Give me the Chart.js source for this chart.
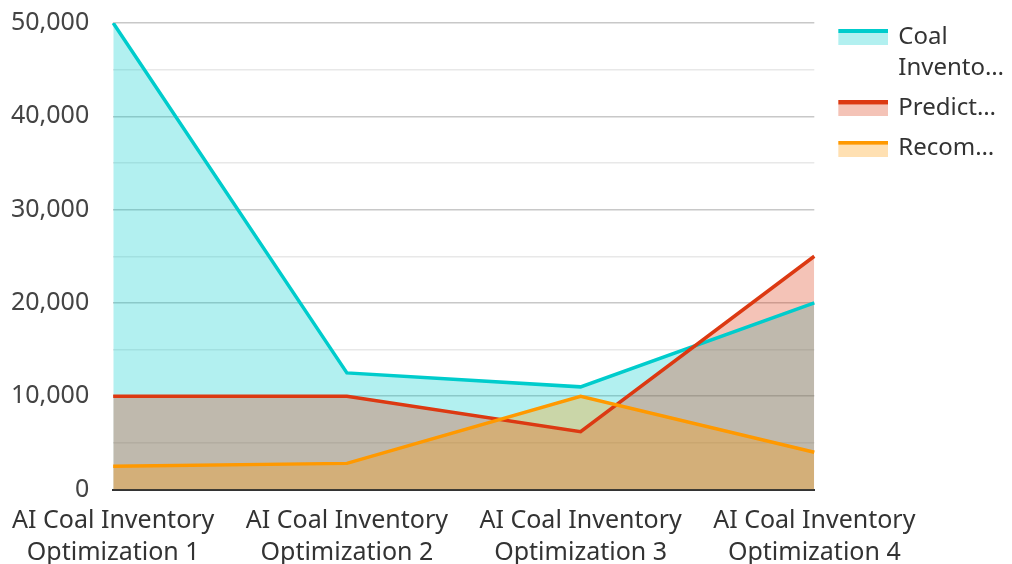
<!DOCTYPE html>
<html>
<head>
<meta charset="utf-8">
<script src="https://cdn.jsdelivr.net/npm/chart.js@4"></script>
<style>
  html, body { margin: 0; padding: 0; background: #fff; }
  #wrap { width: 1012px; height: 564px; }
</style>
</head>
<body>
<div id="wrap"><canvas id="chart"></canvas></div>
<script>
const categories = [
  ["AI Coal Inventory", "Optimization 1"],
  ["AI Coal Inventory", "Optimization 2"],
  ["AI Coal Inventory", "Optimization 3"],
  ["AI Coal Inventory", "Optimization 4"],
];
const seriesNames = ["Coal Inventory", "Predicted Demand", "Recommended Purchase"];
const legendText = [["Coal", "Invento…"], ["Predict…"], ["Recom…"]];
const coalInventory = [50000, 12500, 11000, 20000];
const predictedDemand = [10000, 10000, 6200, 25000];
const recommended = [2500, 2800, 10000, 4000];
const colors = ["rgb(0,204,204)", "rgb(220,57,18)", "rgb(255,153,0)"];
const fills = ["rgba(0,204,204,0.3)", "rgba(220,57,18,0.3)", "rgba(255,153,0,0.3)"];

// legend icon: thick line over a light block, pushed to the right of a wider canvas
const ICON_SHIFT = 15;
function makeIcon(i) {
  const c = document.createElement("canvas");
  c.width = ICON_SHIFT + 52;
  c.height = 16;
  const g = c.getContext("2d");
  const x0 = ICON_SHIFT + 2;
  g.fillStyle = fills[i];
  g.fillRect(x0, 0, 50, 16);
  g.fillStyle = colors[i];
  g.fillRect(x0, 0, 50, 4);
  return c;
}
const icons = [0, 1, 2].map(makeIcon);

Chart.defaults.font.family = "'Noto Sans', sans-serif";
Chart.defaults.color = "#444";

const data = [coalInventory, predictedDemand, recommended];

const ctx = document.getElementById("chart").getContext("2d");
new Chart(ctx, {
  type: "line",
  data: {
    labels: categories,
    datasets: data.map((d, i) => ({
      label: seriesNames[i],
      data: d,
      order: data.length - 1 - i,
      borderColor: colors[i],
      backgroundColor: fills[i],
      borderWidth: 3.5,
      pointRadius: 0,
      tension: 0,
      fill: "origin",
    })),
  },
  options: {
    responsive: true,
    maintainAspectRatio: false,
    animation: false,
    layout: { padding: { top: -8, left: 3, right: -2, bottom: -12 } },
    plugins: {
      filler: { drawTime: "beforeDatasetsDraw" },
      tooltip: { enabled: false },
      legend: {
        position: "right",
        align: "start",
        title: { display: true, text: " ", font: { size: 10, lineHeight: 1 }, padding: { top: 6, bottom: 8 } },
        labels: {
          font: { size: 24, lineHeight: 1.3 },
          color: "#333",
          usePointStyle: true,
          pointStyleWidth: ICON_SHIFT + 48,
          padding: 9,
          generateLabels: (chart) =>
            Chart.defaults.plugins.legend.labels
              .generateLabels(chart)
              .sort((a, b) => a.datasetIndex - b.datasetIndex)
              .map((item) => {
                item.text = legendText[item.datasetIndex];
                item.pointStyle = icons[item.datasetIndex];
                return item;
              }),
        },
      },
    },
    scales: {
      x: {
        offset: false,
        grid: { display: false },
        border: { display: true, color: "#333", width: 2 },
        ticks: { font: { size: 25, lineHeight: 1.25 }, color: "#333", maxRotation: 0, autoSkip: false, padding: 8 },
      },
      y: {
        min: 0,
        max: 50000,
        border: { display: false },
        grid: {
          drawTicks: true,
          tickLength: 16,
          tickColor: "rgba(0,0,0,0)",
          color: (c) => (c.tick && c.tick.value % 10000 === 0 ? "#c8c8c8" : "#e8e8e8"),
          lineWidth: 1.5,
        },
        ticks: {
          stepSize: 5000,
          padding: 8,
          font: { size: 25 },
          color: "#444",
          callback: (v) => (v % 10000 === 0 ? v.toLocaleString("en-US") : ""),
        },
      },
    },
  },
});
</script>
</body>
</html>
